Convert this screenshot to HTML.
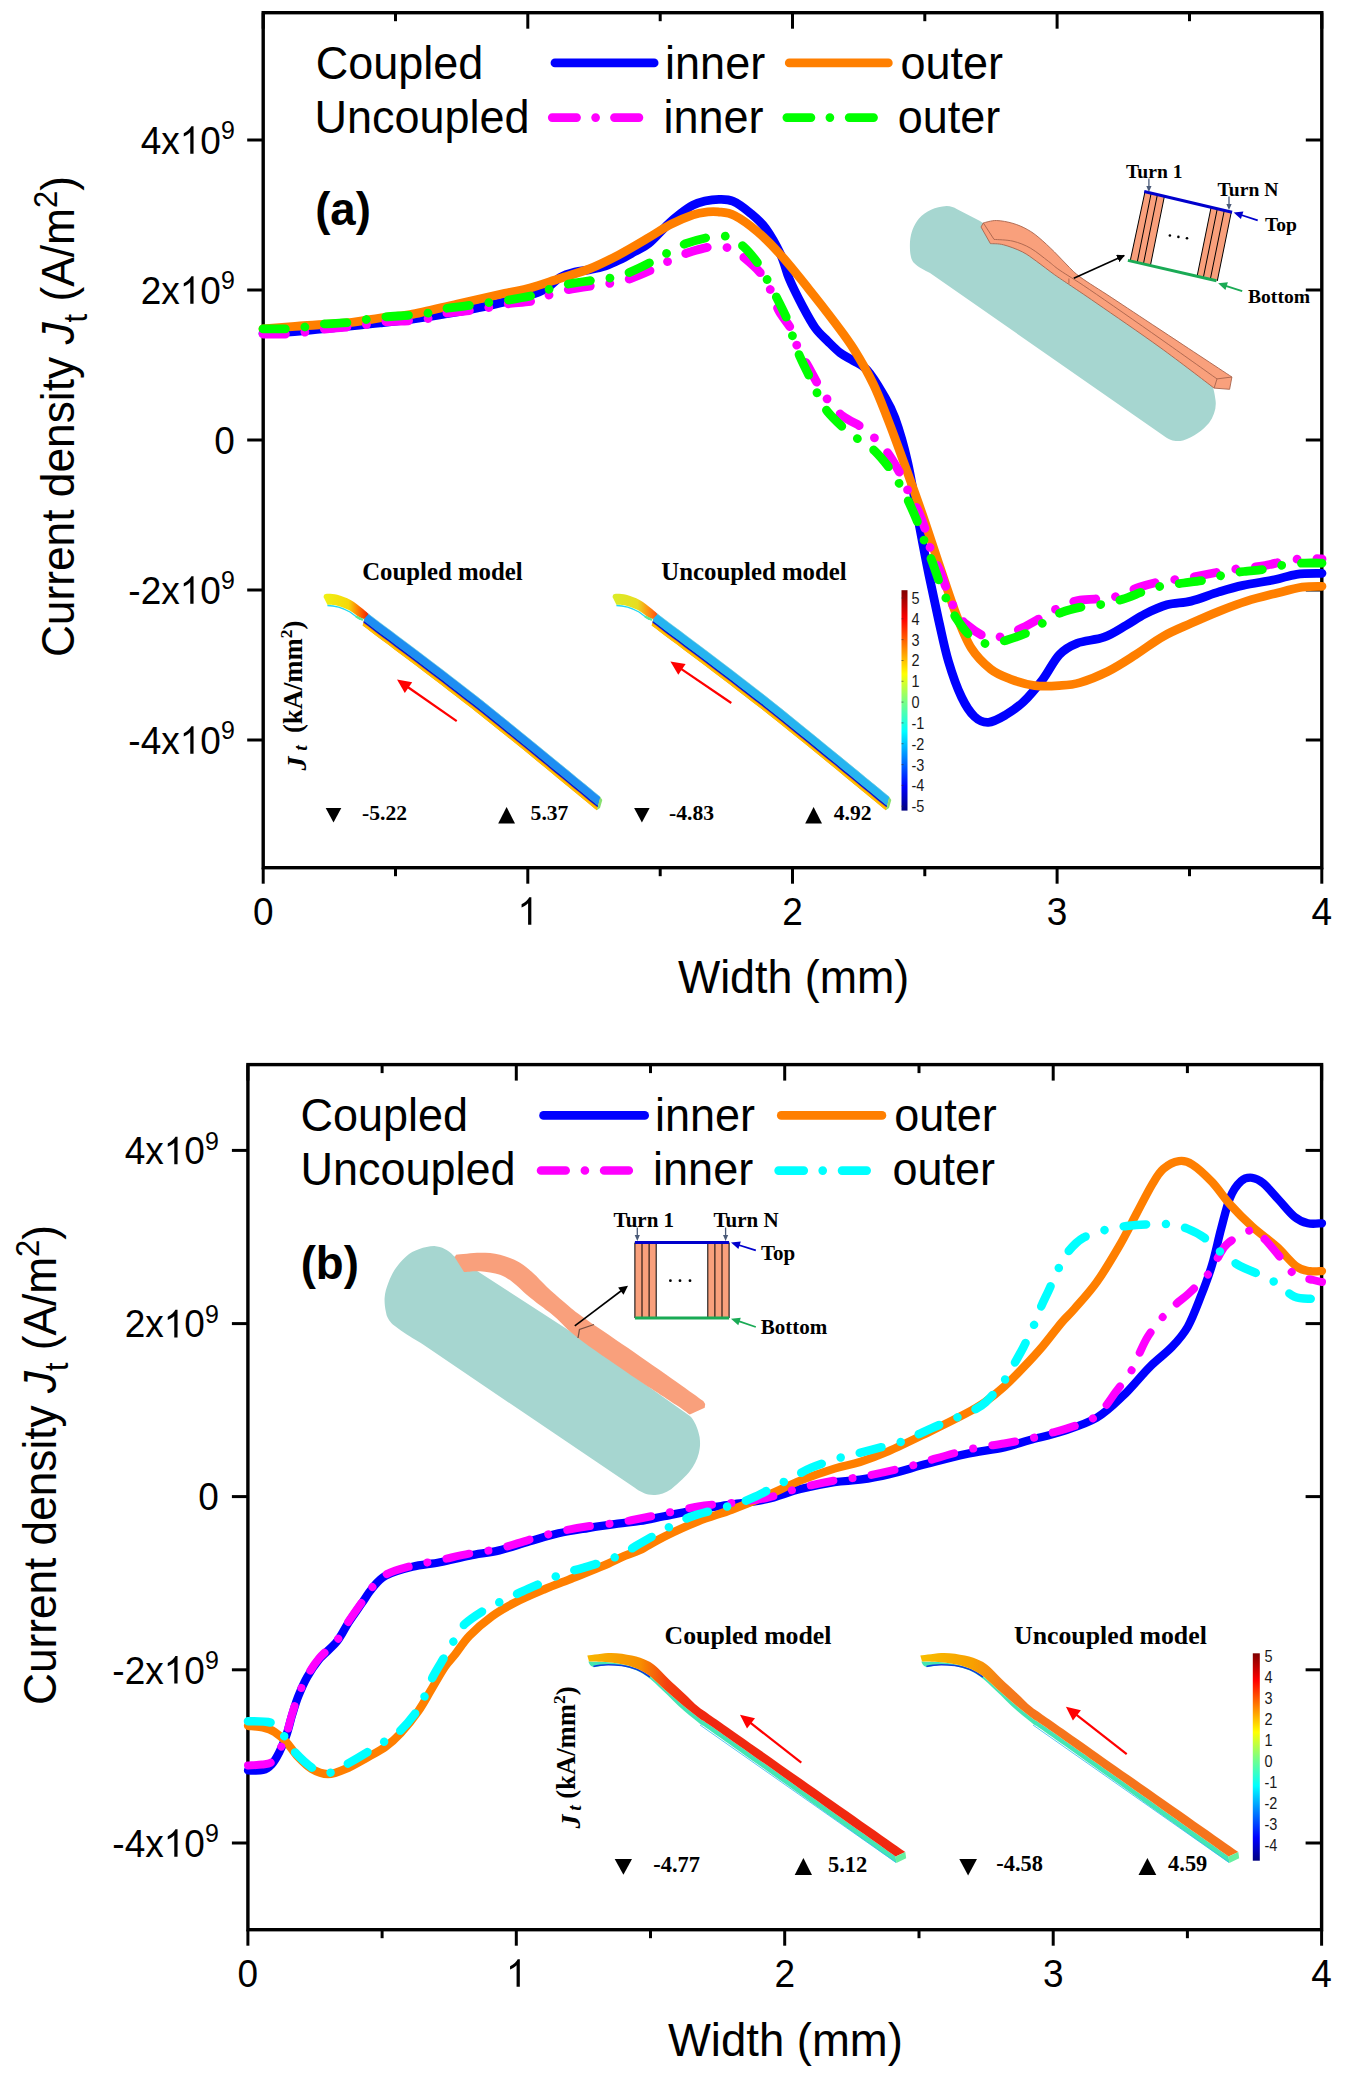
<!DOCTYPE html>
<html><head><meta charset="utf-8"><style>html,body{margin:0;padding:0;background:#fff;}svg{display:block;}</style></head>
<body>
<svg width="1350" height="2078" viewBox="0 0 1350 2078">
<defs>
<clipPath id="clipT"><rect x="263" y="12.5" width="1059" height="855"/></clipPath>
<clipPath id="clipB"><rect x="248" y="1064.5" width="1073.6" height="865.2"/></clipPath>
<linearGradient id="jet" x1="0" y1="1" x2="0" y2="0">
<stop offset="0" stop-color="#00007f"/><stop offset="0.11" stop-color="#0000ff"/><stop offset="0.36" stop-color="#00ffff"/>
<stop offset="0.5" stop-color="#7fff7f"/><stop offset="0.62" stop-color="#ffff00"/><stop offset="0.87" stop-color="#ff0000"/><stop offset="1" stop-color="#7f0000"/>
</linearGradient>
<marker id="ahB" viewBox="0 0 10 10" refX="9" refY="5" markerWidth="5" markerHeight="5" orient="auto"><path d="M0,0 L10,5 L0,10 z" fill="#000"/></marker>
</defs>
<rect width="1350" height="2078" fill="#fff"/>
<path d="M946.7,206 C951,206.3 954,207.3 956.7,209 L980,221 L1209,378.5 C1213,385 1214.5,392 1215.6,400.7 C1216.5,408 1214,416 1209,423 C1203,430 1194,437 1183,440.5 C1178,441.5 1174,441 1171.1,440 C1168,439 1165,437 1162.2,434.8 L930,273 C925,270.5 918,267.5 913.3,262.3 C910.2,258 909.6,250 910,241.7 C910.8,233 913.5,225 919,218.5 C926,211 935,206.6 946.7,206 Z" fill="#a6d6d0"/>
<path d="M981,227 L983.3,222.9 L983.3,222.9 C985.5,222.5 991.4,220.4 996.4,220.5 C1001.4,220.6 1007.9,221.9 1013.0,223.4 C1018.1,224.9 1022.9,227.0 1027.2,229.4 C1031.5,231.8 1034.5,233.9 1039.0,237.7 C1043.5,241.4 1049.6,247.2 1054.4,251.9 C1059.2,256.6 1063.6,261.7 1068.0,266.0 C1072.4,270.3 1073.7,272.3 1081.0,277.6 C1088.3,282.9 1098.7,289.1 1111.9,297.8 C1125.1,306.5 1140.0,316.4 1160.0,329.6 C1180.0,342.8 1219.9,369.1 1231.9,377.0 L1229.6,389.3 L1214.1,388.1 L1214.1,388.1 C1205.1,381.3 1179.5,361.5 1160.0,347.4 C1140.5,333.3 1112.2,314.0 1097.0,303.5 C1081.8,293.0 1075.8,289.1 1068.7,284.3 C1061.6,279.5 1059.7,278.4 1054.4,274.6 C1049.1,270.8 1042.0,265.2 1036.7,261.4 C1031.4,257.6 1027.9,254.7 1022.4,251.9 C1016.9,249.1 1008.8,246.2 1003.5,244.8 C998.2,243.4 992.6,243.8 990.4,243.6 Z" fill="#f9a07c" stroke="#a8634c" stroke-width="0.9" stroke-linejoin="round"/>
<path d="M994.0,239.4 C997.2,239.7 1006.9,239.7 1013.0,241.2 C1019.1,242.7 1024.8,244.9 1030.7,248.3 C1036.6,251.7 1043.6,257.7 1048.5,261.4 C1053.4,265.1 1053.2,265.7 1060.0,270.4 C1066.8,275.1 1072.9,278.2 1089.6,289.6 C1106.3,301.0 1138.8,323.6 1160.0,338.5 C1181.2,353.4 1207.5,372.2 1217.0,378.9" fill="none" stroke="#a8634c" stroke-width="0.9"/>
<path d="M983.3,222.9 L994,239.4 M1217,378.9 L1231.9,377 M1217,378.9 L1214.1,388.1 M1068.9,278.5 L1068.9,283.7" fill="none" stroke="#a8634c" stroke-width="0.9"/>
<line x1="1073.8" y1="278.2" x2="1124.2" y2="255.5" stroke="#000" stroke-width="1.6" marker-end="url(#ahB)"/>
<polygon points="1145.0,191.7 1164.4,196.3 1150.4,265.6 1130.2,260.9" fill="#f9a07c"/>
<line x1="1145.0" y1="191.7" x2="1130.2" y2="260.9" stroke="#000" stroke-width="1"/>
<line x1="1151.2" y1="193.1" x2="1137.2" y2="262.5" stroke="#000" stroke-width="1"/>
<line x1="1157.4" y1="194.6" x2="1143.4" y2="264.0" stroke="#000" stroke-width="1"/>
<line x1="1164.4" y1="196.3" x2="1150.4" y2="265.6" stroke="#000" stroke-width="1"/>
<polygon points="1211.1,207.3 1231.3,212.0 1217.3,280.9 1197.1,276.3" fill="#f9a07c"/>
<line x1="1211.1" y1="207.3" x2="1197.1" y2="276.3" stroke="#000" stroke-width="1"/>
<line x1="1217.3" y1="208.7" x2="1203.3" y2="277.7" stroke="#000" stroke-width="1"/>
<line x1="1224.3" y1="210.4" x2="1210.3" y2="279.3" stroke="#000" stroke-width="1"/>
<line x1="1231.3" y1="212.0" x2="1217.3" y2="280.9" stroke="#000" stroke-width="1"/>
<line x1="1144.2" y1="191.5" x2="1232.1" y2="212.2" stroke="#0000cc" stroke-width="3"/>
<line x1="1127.9" y1="260.4" x2="1216.5" y2="280.7" stroke="#1aaa55" stroke-width="3"/>
<circle cx="1169.9" cy="235.5" r="1.3" fill="#000"/>
<circle cx="1178.4" cy="236.9" r="1.3" fill="#000"/>
<circle cx="1187.0" cy="238.3" r="1.3" fill="#000"/>
<text transform="translate(1154.3,178.3) scale(1,1.000)" text-anchor="middle" style="font-family:'Liberation Serif';font-size:19.6px;font-weight:bold;" fill="#000" >Turn 1</text>
<text transform="translate(1248.0,196.2) scale(1,1.000)" text-anchor="middle" style="font-family:'Liberation Serif';font-size:19.6px;font-weight:bold;" fill="#000" >Turn N</text>
<text transform="translate(1281.0,231.2) scale(1,1.000)" text-anchor="middle" style="font-family:'Liberation Serif';font-size:19.6px;font-weight:bold;" fill="#000" >Top</text>
<text transform="translate(1279.0,302.7) scale(1,1.000)" text-anchor="middle" style="font-family:'Liberation Serif';font-size:19.6px;font-weight:bold;" fill="#000" >Bottom</text>
<line x1="1148.9" y1="178.5" x2="1148.9" y2="187.0" stroke="#4a5a78" stroke-width="1.3"/>
<polygon points="1148.9,192.0 1146.3,186.0 1151.5,186.0" fill="#4a5a78"/>
<line x1="1229.0" y1="196.5" x2="1229.0" y2="205.0" stroke="#4a5a78" stroke-width="1.3"/>
<polygon points="1229.0,210.0 1226.4,204.0 1231.6,204.0" fill="#4a5a78"/>
<line x1="1257.7" y1="220.3" x2="1241.2" y2="215.0" stroke="#0000cc" stroke-width="1.8"/>
<polygon points="1233.6,212.5 1243.4,211.5 1240.9,219.1" fill="#0000cc"/>
<line x1="1242.2" y1="291.1" x2="1225.7" y2="285.8" stroke="#1aaa55" stroke-width="1.8"/>
<polygon points="1218.1,283.3 1227.9,282.3 1225.4,289.9" fill="#1aaa55"/>
<defs><linearGradient id="hkC" gradientUnits="userSpaceOnUse" x1="325" y1="0" x2="368" y2="0"><stop offset="0" stop-color="#f0f014"/><stop offset="0.55" stop-color="#f6d808"/><stop offset="0.8" stop-color="#ff7000"/><stop offset="1" stop-color="#f02000"/></linearGradient><linearGradient id="hkU" gradientUnits="userSpaceOnUse" x1="325" y1="0" x2="368" y2="0"><stop offset="0" stop-color="#dcec28"/><stop offset="0.55" stop-color="#e8dc20"/><stop offset="0.8" stop-color="#ff9010"/><stop offset="1" stop-color="#ff5010"/></linearGradient></defs>
<g transform="translate(0.0,0)">
<path d="M366.0,612.2 C384.2,626.0 435.9,664.2 475.0,695.0 C514.0,725.8 579.4,780.0 600.3,797.0 L597.0,810.2 C576.1,793.2 510.8,739.0 471.7,708.2 C432.6,677.4 380.9,639.2 362.7,625.4 Z" fill="#ff8a00" />
<path d="M363.2,623.2 C381.4,637.0 433.2,675.2 472.2,706.0 C511.3,736.8 576.7,791.0 597.5,808.0 L597.0,810.2 C576.1,793.2 510.8,739.0 471.7,708.2 C432.6,677.4 380.9,639.2 362.7,625.4 Z" fill="#ffc000" />
<path d="M363.9,620.8 C382.0,634.6 433.8,672.8 472.9,703.6 C511.9,734.4 577.3,788.6 598.1,805.6 L597.7,807.3 C576.8,790.3 511.5,736.1 472.4,705.3 C433.4,674.5 381.6,636.3 363.4,622.5 Z" fill="#0018d8" />
<path d="M366.0,612.2 C384.2,626.0 435.9,664.2 475.0,695.0 C514.0,725.8 579.4,780.0 600.3,797.0 L598.1,805.8 C577.2,788.8 511.9,734.6 472.8,703.8 C433.8,673.0 382.0,634.8 363.8,621.0 Z" fill="#1e8ef2" />
<path d="M366.0,612.2 C384.2,626.0 435.9,664.2 475.0,695.0 C514.0,725.8 579.4,780.0 600.3,797.0" fill="none" stroke="#60d8ff" stroke-width="1" opacity="0.7"/>
<path d="M323.5,597.0 C323.9,596.5 323.4,594.3 325.7,593.9 C328.0,593.5 333.0,593.8 337.2,594.8 C341.4,595.8 346.3,597.7 350.6,600.1 C354.9,602.5 360.0,606.7 363.0,609.0 C366.0,611.3 367.6,613.2 368.5,614.0 L364.0,619.0 C363.2,618.7 361.9,618.7 359.4,617.2 C356.9,615.7 352.5,611.9 348.8,610.0 C345.1,608.1 340.8,606.6 337.2,605.7 C333.6,604.8 329.0,604.9 327.4,604.8 Z" fill="url(#hkC)" />
<path d="M327.4,605.5 C333,605.5 342,607.5 350,612 L360,619.5" fill="none" stroke="#22d8f0" stroke-width="1.3"/>
<path d="M356,616.5 L363,620" stroke="#60e890" stroke-width="2.5"/>
<polygon points="597,810 598.2,805.6 600.3,797 602.3,800 600,808" fill="#88e070"/>
</g>
<g transform="translate(289.0,0)">
<path d="M366.0,612.2 C384.2,626.0 435.9,664.2 475.0,695.0 C514.0,725.8 579.4,780.0 600.3,797.0 L597.0,810.2 C576.1,793.2 510.8,739.0 471.7,708.2 C432.6,677.4 380.9,639.2 362.7,625.4 Z" fill="#ff8a00" />
<path d="M363.2,623.2 C381.4,637.0 433.2,675.2 472.2,706.0 C511.3,736.8 576.7,791.0 597.5,808.0 L597.0,810.2 C576.1,793.2 510.8,739.0 471.7,708.2 C432.6,677.4 380.9,639.2 362.7,625.4 Z" fill="#ffc000" />
<path d="M363.9,620.8 C382.0,634.6 433.8,672.8 472.9,703.6 C511.9,734.4 577.3,788.6 598.1,805.6 L597.7,807.3 C576.8,790.3 511.5,736.1 472.4,705.3 C433.4,674.5 381.6,636.3 363.4,622.5 Z" fill="#0018d8" />
<path d="M366.0,612.2 C384.2,626.0 435.9,664.2 475.0,695.0 C514.0,725.8 579.4,780.0 600.3,797.0 L598.1,805.8 C577.2,788.8 511.9,734.6 472.8,703.8 C433.8,673.0 382.0,634.8 363.8,621.0 Z" fill="#26b4f0" />
<path d="M366.0,612.2 C384.2,626.0 435.9,664.2 475.0,695.0 C514.0,725.8 579.4,780.0 600.3,797.0" fill="none" stroke="#60d8ff" stroke-width="1" opacity="0.7"/>
<path d="M323.5,597.0 C323.9,596.5 323.4,594.3 325.7,593.9 C328.0,593.5 333.0,593.8 337.2,594.8 C341.4,595.8 346.3,597.7 350.6,600.1 C354.9,602.5 360.0,606.7 363.0,609.0 C366.0,611.3 367.6,613.2 368.5,614.0 L364.0,619.0 C363.2,618.7 361.9,618.7 359.4,617.2 C356.9,615.7 352.5,611.9 348.8,610.0 C345.1,608.1 340.8,606.6 337.2,605.7 C333.6,604.8 329.0,604.9 327.4,604.8 Z" fill="url(#hkU)" />
<path d="M327.4,605.5 C333,605.5 342,607.5 350,612 L360,619.5" fill="none" stroke="#22d8f0" stroke-width="1.3"/>
<path d="M356,616.5 L363,620" stroke="#60e890" stroke-width="2.5"/>
<polygon points="597,810 598.2,805.6 600.3,797 602.3,800 600,808" fill="#88e070"/>
</g>
<line x1="456.7" y1="721.1" x2="407.7" y2="687.0" stroke="#ff0000" stroke-width="2.2"/>
<polygon points="397.0,679.6 412.2,682.3 404.8,692.9" fill="#ff0000"/>
<line x1="731.3" y1="703.0" x2="681.1" y2="668.8" stroke="#ff0000" stroke-width="2.2"/>
<polygon points="670.4,661.5 685.6,664.0 678.3,674.8" fill="#ff0000"/>
<text transform="translate(442.4,579.8) scale(1,1.000)" text-anchor="middle" style="font-family:'Liberation Serif';font-size:24.8px;font-weight:bold;" fill="#000" >Coupled model</text>
<text transform="translate(754.0,579.8) scale(1,1.000)" text-anchor="middle" style="font-family:'Liberation Serif';font-size:24.8px;font-weight:bold;" fill="#000" >Uncoupled model</text>
<rect x="901.5" y="590.2" width="6" height="220.4" fill="url(#jet)"/>
<text transform="translate(911.5,603.9) scale(1,1.180)" text-anchor="start" style="font-family:'Liberation Sans';font-size:14.5px;font-weight:normal;" fill="#1a1a1a" >5</text>
<line x1="901.5" y1="598.0" x2="903.5" y2="598.0" stroke="#333" stroke-width="0.6"/>
<text transform="translate(911.5,624.7) scale(1,1.180)" text-anchor="start" style="font-family:'Liberation Sans';font-size:14.5px;font-weight:normal;" fill="#1a1a1a" >4</text>
<line x1="901.5" y1="618.8" x2="903.5" y2="618.8" stroke="#333" stroke-width="0.6"/>
<text transform="translate(911.5,645.5) scale(1,1.180)" text-anchor="start" style="font-family:'Liberation Sans';font-size:14.5px;font-weight:normal;" fill="#1a1a1a" >3</text>
<line x1="901.5" y1="639.6" x2="903.5" y2="639.6" stroke="#333" stroke-width="0.6"/>
<text transform="translate(911.5,666.4) scale(1,1.180)" text-anchor="start" style="font-family:'Liberation Sans';font-size:14.5px;font-weight:normal;" fill="#1a1a1a" >2</text>
<line x1="901.5" y1="660.5" x2="903.5" y2="660.5" stroke="#333" stroke-width="0.6"/>
<text transform="translate(911.5,687.2) scale(1,1.180)" text-anchor="start" style="font-family:'Liberation Sans';font-size:14.5px;font-weight:normal;" fill="#1a1a1a" >1</text>
<line x1="901.5" y1="681.3" x2="903.5" y2="681.3" stroke="#333" stroke-width="0.6"/>
<text transform="translate(911.5,708.0) scale(1,1.180)" text-anchor="start" style="font-family:'Liberation Sans';font-size:14.5px;font-weight:normal;" fill="#1a1a1a" >0</text>
<line x1="901.5" y1="702.1" x2="903.5" y2="702.1" stroke="#333" stroke-width="0.6"/>
<text transform="translate(911.5,728.8) scale(1,1.180)" text-anchor="start" style="font-family:'Liberation Sans';font-size:14.5px;font-weight:normal;" fill="#1a1a1a" >-1</text>
<line x1="901.5" y1="722.9" x2="903.5" y2="722.9" stroke="#333" stroke-width="0.6"/>
<text transform="translate(911.5,749.6) scale(1,1.180)" text-anchor="start" style="font-family:'Liberation Sans';font-size:14.5px;font-weight:normal;" fill="#1a1a1a" >-2</text>
<line x1="901.5" y1="743.7" x2="903.5" y2="743.7" stroke="#333" stroke-width="0.6"/>
<text transform="translate(911.5,770.5) scale(1,1.180)" text-anchor="start" style="font-family:'Liberation Sans';font-size:14.5px;font-weight:normal;" fill="#1a1a1a" >-3</text>
<line x1="901.5" y1="764.6" x2="903.5" y2="764.6" stroke="#333" stroke-width="0.6"/>
<text transform="translate(911.5,791.3) scale(1,1.180)" text-anchor="start" style="font-family:'Liberation Sans';font-size:14.5px;font-weight:normal;" fill="#1a1a1a" >-4</text>
<line x1="901.5" y1="785.4" x2="903.5" y2="785.4" stroke="#333" stroke-width="0.6"/>
<text transform="translate(911.5,812.1) scale(1,1.180)" text-anchor="start" style="font-family:'Liberation Sans';font-size:14.5px;font-weight:normal;" fill="#1a1a1a" >-5</text>
<line x1="901.5" y1="806.2" x2="903.5" y2="806.2" stroke="#333" stroke-width="0.6"/>
<polygon points="325.7,808.0 341.3,808.0 333.5,822.5" fill="#000"/>
<text transform="translate(362.0,819.6) scale(1,1.000)" text-anchor="start" style="font-family:'Liberation Serif';font-size:21.6px;font-weight:bold;" fill="#000" >-5.22</text>
<polygon points="498.2,823.5 515.0,823.5 506.6,807.0" fill="#000"/>
<text transform="translate(530.6,819.6) scale(1,1.000)" text-anchor="start" style="font-family:'Liberation Serif';font-size:21.6px;font-weight:bold;" fill="#000" >5.37</text>
<polygon points="634.1,808.0 649.6,808.0 641.9,822.5" fill="#000"/>
<text transform="translate(669.1,819.6) scale(1,1.000)" text-anchor="start" style="font-family:'Liberation Serif';font-size:21.6px;font-weight:bold;" fill="#000" >-4.83</text>
<polygon points="805.2,823.5 822.0,823.5 813.6,807.0" fill="#000"/>
<text transform="translate(833.7,819.6) scale(1,1.000)" text-anchor="start" style="font-family:'Liberation Serif';font-size:21.6px;font-weight:bold;" fill="#000" >4.92</text>
<g transform="translate(301.6,770.4) rotate(-90)" style="font-family:'Liberation Serif';font-weight:bold"><text x="0.0" y="4.3" font-style="italic" font-size="28">J</text><text x="19.6" y="5.3" font-style="italic" font-size="19.5">t</text><text x="37.3" y="0" font-size="26.7">(kA/mm<tspan font-size="17.6" dy="-10">2</tspan><tspan dy="10">)</tspan></text></g>
<path d="M434.3,1246.1 C442,1246.8 448,1250 453.5,1255.7 L573.3,1333.3 L689.9,1415.9 C694,1419.5 698,1428 699.6,1437 C700.5,1444 700,1448 698.8,1453.3 C697,1460 694,1466 690,1471 C686,1476 680,1482 671.1,1489.2 C665,1493 660,1495 654.8,1494.9 C650,1495 647,1494.5 644.2,1493.3 C640,1491.5 637,1489.5 634.4,1487.6 L423.1,1344.6 C416,1340 410,1337 400.9,1330.6 C396,1327 393,1325 391.3,1323.1 C388,1319 386.5,1316 386.1,1312.8 C384.8,1307 384.4,1302 384.6,1298 C385,1292 386.5,1288 388.3,1283.1 C390.5,1277 393,1272 395.7,1268.3 C399,1263.5 402,1260 406.1,1256.5 C410,1253 414,1251 419.4,1249.1 C424,1247.3 429,1246.3 434.3,1246.1 Z" fill="#a6d6d0"/>
<path d="M454.7,1257.3 L456,1254.7 L456.0,1254.7 C460.0,1254.4 472.7,1252.7 480.0,1252.7 C487.3,1252.7 493.3,1253.0 500.0,1254.7 C506.7,1256.4 514.5,1259.6 520.0,1262.7 C525.5,1265.8 528.8,1269.3 533.3,1273.3 C537.8,1277.3 541.6,1281.9 546.7,1286.7 C551.8,1291.5 558.1,1297.0 564.0,1302.0 C569.9,1307.0 571.3,1308.8 582.0,1316.5 C592.7,1324.2 612.4,1337.2 628.1,1348.1 C643.8,1359.0 663.8,1373.0 676.3,1381.8 C688.8,1390.6 698.8,1397.9 703.3,1401.1 L705.2,1404 L704.7,1407.8 L689.8,1414.6 C687.5,1413.0 686.6,1411.9 676.3,1405.0 C666.0,1398.1 644.5,1384.4 628.1,1373.2 C611.7,1362.0 590.2,1347.4 578.0,1338.0 C565.8,1328.6 561.3,1322.5 555.0,1317.0 C548.7,1311.5 544.7,1309.0 540.0,1305.3 C535.3,1301.6 531.2,1298.5 526.7,1294.7 C522.2,1290.9 517.8,1286.0 513.3,1282.7 C508.8,1279.4 505.6,1276.6 500.0,1274.7 C494.4,1272.8 486.0,1271.8 480.0,1271.3 C474.0,1270.8 466.7,1271.9 464.0,1272.0 Z" fill="#f9a07c"/>
<path d="M578,1338 L579.5,1329.5 L594,1324.5" fill="none" stroke="#7a5040" stroke-width="1.3"/>
<line x1="574.8" y1="1325.9" x2="621.6" y2="1290.5" stroke="#000" stroke-width="1.6"/>
<polygon points="628.0,1285.7 623.5,1294.7 618.1,1287.5" fill="#000"/>
<rect x="634.9" y="1242.6" width="21.3" height="75.4" fill="#f9a07c"/>
<rect x="707.8" y="1242.6" width="21.3" height="75.4" fill="#f9a07c"/>
<line x1="634.9" y1="1242.6" x2="634.9" y2="1318" stroke="#000" stroke-width="1"/>
<line x1="642.0" y1="1242.6" x2="642.0" y2="1318" stroke="#000" stroke-width="1"/>
<line x1="649.1" y1="1242.6" x2="649.1" y2="1318" stroke="#000" stroke-width="1"/>
<line x1="656.2" y1="1242.6" x2="656.2" y2="1318" stroke="#000" stroke-width="1"/>
<line x1="707.8" y1="1242.6" x2="707.8" y2="1318" stroke="#000" stroke-width="1"/>
<line x1="714.9" y1="1242.6" x2="714.9" y2="1318" stroke="#000" stroke-width="1"/>
<line x1="722.0" y1="1242.6" x2="722.0" y2="1318" stroke="#000" stroke-width="1"/>
<line x1="729.1" y1="1242.6" x2="729.1" y2="1318" stroke="#000" stroke-width="1"/>
<line x1="634.9" y1="1242.6" x2="729.1" y2="1242.6" stroke="#0000cc" stroke-width="3"/>
<line x1="634.9" y1="1318" x2="729.1" y2="1318" stroke="#1aaa55" stroke-width="3"/>
<circle cx="670.4" cy="1280.7" r="1.4" fill="#000"/>
<circle cx="680.0" cy="1280.7" r="1.4" fill="#000"/>
<circle cx="690.0" cy="1280.7" r="1.4" fill="#000"/>
<text transform="translate(643.8,1227.3) scale(1,1.000)" text-anchor="middle" style="font-family:'Liberation Serif';font-size:21px;font-weight:bold;" fill="#000" >Turn 1</text>
<text transform="translate(746.0,1227.3) scale(1,1.000)" text-anchor="middle" style="font-family:'Liberation Serif';font-size:21px;font-weight:bold;" fill="#000" >Turn N</text>
<text transform="translate(778.0,1260.0) scale(1,1.000)" text-anchor="middle" style="font-family:'Liberation Serif';font-size:21px;font-weight:bold;" fill="#000" >Top</text>
<text transform="translate(794.0,1333.5) scale(1,1.000)" text-anchor="middle" style="font-family:'Liberation Serif';font-size:21px;font-weight:bold;" fill="#000" >Bottom</text>
<line x1="637.3" y1="1227.5" x2="637.3" y2="1236.0" stroke="#4a5a78" stroke-width="1.3"/>
<polygon points="637.3,1241.0 634.7,1235.0 639.9,1235.0" fill="#4a5a78"/>
<line x1="725.6" y1="1227.5" x2="725.6" y2="1236.0" stroke="#4a5a78" stroke-width="1.3"/>
<polygon points="725.6,1241.0 723.0,1235.0 728.2,1235.0" fill="#4a5a78"/>
<line x1="755.8" y1="1250.4" x2="738.6" y2="1245.0" stroke="#0000cc" stroke-width="1.8"/>
<polygon points="731.0,1242.6 740.8,1241.5 738.4,1249.1" fill="#0000cc"/>
<line x1="755.8" y1="1327.0" x2="738.6" y2="1321.2" stroke="#1aaa55" stroke-width="1.8"/>
<polygon points="731.0,1318.7 740.8,1317.8 738.3,1325.3" fill="#1aaa55"/>
<defs><linearGradient id="gC" gradientUnits="userSpaceOnUse" x1="590" y1="0" x2="700" y2="0"><stop offset="0" stop-color="#f8b400"/><stop offset="0.45" stop-color="#f89000"/><stop offset="0.7" stop-color="#f44010"/><stop offset="1" stop-color="#f02810"/></linearGradient><linearGradient id="gU" gradientUnits="userSpaceOnUse" x1="590" y1="0" x2="700" y2="0"><stop offset="0" stop-color="#f8bc00"/><stop offset="0.45" stop-color="#f8a000"/><stop offset="0.75" stop-color="#f57a1c"/><stop offset="1" stop-color="#f5741c"/></linearGradient></defs>
<g transform="translate(0.0,0)">
<path d="M589.0,1661.5 C592.7,1661.7 604.0,1661.7 611.1,1662.6 C618.2,1663.5 625.9,1664.8 631.9,1666.7 C637.9,1668.7 642.2,1670.8 647.4,1674.3 C652.6,1677.8 657.0,1682.7 663.0,1688.0 C669.0,1693.3 676.8,1700.3 683.7,1706.0 C690.6,1711.7 698.4,1717.6 704.4,1722.0 C710.4,1726.4 688.1,1709.8 720.0,1732.2 C751.9,1754.6 866.3,1835.7 895.6,1856.4 L896.4,1863.1 C867.0,1842.2 752.0,1760.2 720.0,1737.5 C688.0,1714.8 710.4,1731.6 704.4,1727.1 C698.4,1722.6 690.6,1716.5 683.7,1710.5 C676.8,1704.5 669.0,1696.4 663.0,1690.8 C657.0,1685.2 652.6,1680.5 647.4,1676.8 C642.2,1673.1 637.9,1670.8 631.9,1668.8 C625.9,1666.8 617.5,1665.1 611.1,1664.8 C604.7,1664.5 597.3,1667.5 593.5,1667.0 C589.7,1666.5 589.2,1662.7 588.3,1661.8 Z" fill="#44e6b4" />
<path d="M593.5,1666.5 C600,1664.5 611,1664.3 622,1665.5 C634,1667 642,1671 650,1677" fill="none" stroke="#1038e0" stroke-width="1.6"/>
<path d="M700,1725 L896,1862.5" stroke="#30b8f0" stroke-width="1" opacity="0.8"/>
<path d="M587.3,1655.6 C591.3,1655.2 603.7,1653.0 611.1,1653.0 C618.5,1653.0 625.9,1654.3 631.9,1655.6 C637.9,1656.9 643.3,1658.8 647.4,1660.7 C651.5,1662.6 653.2,1664.0 656.7,1667.0 C660.2,1670.0 663.6,1674.1 668.1,1678.4 C672.6,1682.7 678.5,1688.1 683.7,1692.9 C688.9,1697.7 693.2,1702.6 699.3,1707.4 C705.3,1712.2 685.7,1697.8 720.0,1721.9 C754.3,1746.0 874.4,1830.3 905.3,1852.0 L895.6,1856.4 C866.3,1835.7 751.9,1754.6 720.0,1732.2 C688.1,1709.8 710.4,1726.4 704.4,1722.0 C698.4,1717.6 690.6,1711.7 683.7,1706.0 C676.8,1700.3 669.0,1693.3 663.0,1688.0 C657.0,1682.7 652.6,1677.8 647.4,1674.3 C642.2,1670.8 637.9,1668.7 631.9,1666.7 C625.9,1664.8 618.2,1663.5 611.1,1662.6 C604.0,1661.7 592.7,1661.7 589.0,1661.5 Z" fill="url(#gC)" />
<polygon points="895.6,1856.4 905.3,1852 906.2,1858.2 896.4,1863.1" fill="#66f0a0"/>
</g>
<g transform="translate(333.0,0)">
<path d="M589.0,1661.5 C592.7,1661.7 604.0,1661.7 611.1,1662.6 C618.2,1663.5 625.9,1664.8 631.9,1666.7 C637.9,1668.7 642.2,1670.8 647.4,1674.3 C652.6,1677.8 657.0,1682.7 663.0,1688.0 C669.0,1693.3 676.8,1700.3 683.7,1706.0 C690.6,1711.7 698.4,1717.6 704.4,1722.0 C710.4,1726.4 688.1,1709.8 720.0,1732.2 C751.9,1754.6 866.3,1835.7 895.6,1856.4 L896.4,1863.1 C867.0,1842.2 752.0,1760.2 720.0,1737.5 C688.0,1714.8 710.4,1731.6 704.4,1727.1 C698.4,1722.6 690.6,1716.5 683.7,1710.5 C676.8,1704.5 669.0,1696.4 663.0,1690.8 C657.0,1685.2 652.6,1680.5 647.4,1676.8 C642.2,1673.1 637.9,1670.8 631.9,1668.8 C625.9,1666.8 617.5,1665.1 611.1,1664.8 C604.7,1664.5 597.3,1667.5 593.5,1667.0 C589.7,1666.5 589.2,1662.7 588.3,1661.8 Z" fill="#44e6b4" />
<path d="M593.5,1666.5 C600,1664.5 611,1664.3 622,1665.5 C634,1667 642,1671 650,1677" fill="none" stroke="#1038e0" stroke-width="1.6"/>
<path d="M700,1725 L896,1862.5" stroke="#30b8f0" stroke-width="1" opacity="0.8"/>
<path d="M587.3,1655.6 C591.3,1655.2 603.7,1653.0 611.1,1653.0 C618.5,1653.0 625.9,1654.3 631.9,1655.6 C637.9,1656.9 643.3,1658.8 647.4,1660.7 C651.5,1662.6 653.2,1664.0 656.7,1667.0 C660.2,1670.0 663.6,1674.1 668.1,1678.4 C672.6,1682.7 678.5,1688.1 683.7,1692.9 C688.9,1697.7 693.2,1702.6 699.3,1707.4 C705.3,1712.2 685.7,1697.8 720.0,1721.9 C754.3,1746.0 874.4,1830.3 905.3,1852.0 L895.6,1856.4 C866.3,1835.7 751.9,1754.6 720.0,1732.2 C688.1,1709.8 710.4,1726.4 704.4,1722.0 C698.4,1717.6 690.6,1711.7 683.7,1706.0 C676.8,1700.3 669.0,1693.3 663.0,1688.0 C657.0,1682.7 652.6,1677.8 647.4,1674.3 C642.2,1670.8 637.9,1668.7 631.9,1666.7 C625.9,1664.8 618.2,1663.5 611.1,1662.6 C604.0,1661.7 592.7,1661.7 589.0,1661.5 Z" fill="url(#gU)" />
<polygon points="895.6,1856.4 905.3,1852 906.2,1858.2 896.4,1863.1" fill="#66f0a0"/>
</g>
<line x1="801.3" y1="1762.7" x2="750.2" y2="1722.7" stroke="#ff0000" stroke-width="2.2"/>
<polygon points="740.0,1714.7 755.0,1718.2 747.0,1728.4" fill="#ff0000"/>
<line x1="1126.7" y1="1754.1" x2="1076.2" y2="1714.7" stroke="#ff0000" stroke-width="2.2"/>
<polygon points="1065.9,1706.7 1080.9,1710.2 1072.9,1720.4" fill="#ff0000"/>
<text transform="translate(748.0,1644.0) scale(1,1.000)" text-anchor="middle" style="font-family:'Liberation Serif';font-size:25.8px;font-weight:bold;" fill="#000" >Coupled model</text>
<text transform="translate(1110.4,1644.4) scale(1,1.000)" text-anchor="middle" style="font-family:'Liberation Serif';font-size:25.8px;font-weight:bold;" fill="#000" >Uncoupled model</text>
<rect x="1252.8" y="1653.3" width="7" height="207.4" fill="url(#jet)"/>
<text transform="translate(1264.4,1662.2) scale(1,1.180)" text-anchor="start" style="font-family:'Liberation Sans';font-size:14.5px;font-weight:normal;" fill="#1a1a1a" >5</text>
<text transform="translate(1264.4,1683.2) scale(1,1.180)" text-anchor="start" style="font-family:'Liberation Sans';font-size:14.5px;font-weight:normal;" fill="#1a1a1a" >4</text>
<text transform="translate(1264.4,1704.2) scale(1,1.180)" text-anchor="start" style="font-family:'Liberation Sans';font-size:14.5px;font-weight:normal;" fill="#1a1a1a" >3</text>
<text transform="translate(1264.4,1725.2) scale(1,1.180)" text-anchor="start" style="font-family:'Liberation Sans';font-size:14.5px;font-weight:normal;" fill="#1a1a1a" >2</text>
<text transform="translate(1264.4,1746.2) scale(1,1.180)" text-anchor="start" style="font-family:'Liberation Sans';font-size:14.5px;font-weight:normal;" fill="#1a1a1a" >1</text>
<text transform="translate(1264.4,1767.2) scale(1,1.180)" text-anchor="start" style="font-family:'Liberation Sans';font-size:14.5px;font-weight:normal;" fill="#1a1a1a" >0</text>
<text transform="translate(1264.4,1788.2) scale(1,1.180)" text-anchor="start" style="font-family:'Liberation Sans';font-size:14.5px;font-weight:normal;" fill="#1a1a1a" >-1</text>
<text transform="translate(1264.4,1809.2) scale(1,1.180)" text-anchor="start" style="font-family:'Liberation Sans';font-size:14.5px;font-weight:normal;" fill="#1a1a1a" >-2</text>
<text transform="translate(1264.4,1830.2) scale(1,1.180)" text-anchor="start" style="font-family:'Liberation Sans';font-size:14.5px;font-weight:normal;" fill="#1a1a1a" >-3</text>
<text transform="translate(1264.4,1851.2) scale(1,1.180)" text-anchor="start" style="font-family:'Liberation Sans';font-size:14.5px;font-weight:normal;" fill="#1a1a1a" >-4</text>
<polygon points="614.7,1859.0 632.0,1859.0 623.4,1874.7" fill="#000"/>
<text transform="translate(653.3,1872.0) scale(1,1.000)" text-anchor="start" style="font-family:'Liberation Serif';font-size:22.4px;font-weight:bold;" fill="#000" >-4.77</text>
<polygon points="794.7,1875.0 812.0,1875.0 803.4,1858.0" fill="#000"/>
<text transform="translate(828.0,1872.0) scale(1,1.000)" text-anchor="start" style="font-family:'Liberation Serif';font-size:22.4px;font-weight:bold;" fill="#000" >5.12</text>
<polygon points="959.3,1859.0 977.0,1859.0 968.1,1875.6" fill="#000"/>
<text transform="translate(996.3,1871.1) scale(1,1.000)" text-anchor="start" style="font-family:'Liberation Serif';font-size:22.4px;font-weight:bold;" fill="#000" >-4.58</text>
<polygon points="1138.5,1875.0 1156.3,1875.0 1147.4,1858.0" fill="#000"/>
<text transform="translate(1168.1,1871.1) scale(1,1.000)" text-anchor="start" style="font-family:'Liberation Serif';font-size:22.4px;font-weight:bold;" fill="#000" >4.59</text>
<g transform="translate(575.4,1828.5) rotate(-90)" style="font-family:'Liberation Serif';font-weight:bold"><text x="0.0" y="4.3" font-style="italic" font-size="28">J</text><text x="17.7" y="5.3" font-style="italic" font-size="19.5">t</text><text x="29.7" y="0" font-size="26.7">(kA/mm<tspan font-size="17.6" dy="-10">2</tspan><tspan dy="10">)</tspan></text></g>
<rect x="263.2" y="12.7" width="1058.6" height="855.0" fill="none" stroke="#000" stroke-width="3.4"/>
<line x1="263.2" y1="867.7" x2="263.2" y2="883.7" stroke="#000" stroke-width="3"/>
<line x1="263.2" y1="12.7" x2="263.2" y2="28.7" stroke="#000" stroke-width="3"/>
<line x1="527.8" y1="867.7" x2="527.8" y2="883.7" stroke="#000" stroke-width="3"/>
<line x1="527.8" y1="12.7" x2="527.8" y2="28.7" stroke="#000" stroke-width="3"/>
<line x1="792.5" y1="867.7" x2="792.5" y2="883.7" stroke="#000" stroke-width="3"/>
<line x1="792.5" y1="12.7" x2="792.5" y2="28.7" stroke="#000" stroke-width="3"/>
<line x1="1057.1" y1="867.7" x2="1057.1" y2="883.7" stroke="#000" stroke-width="3"/>
<line x1="1057.1" y1="12.7" x2="1057.1" y2="28.7" stroke="#000" stroke-width="3"/>
<line x1="1321.8" y1="867.7" x2="1321.8" y2="883.7" stroke="#000" stroke-width="3"/>
<line x1="1321.8" y1="12.7" x2="1321.8" y2="28.7" stroke="#000" stroke-width="3"/>
<line x1="395.5" y1="867.7" x2="395.5" y2="876.2" stroke="#000" stroke-width="3"/>
<line x1="395.5" y1="12.7" x2="395.5" y2="21.2" stroke="#000" stroke-width="3"/>
<line x1="660.2" y1="867.7" x2="660.2" y2="876.2" stroke="#000" stroke-width="3"/>
<line x1="660.2" y1="12.7" x2="660.2" y2="21.2" stroke="#000" stroke-width="3"/>
<line x1="924.8" y1="867.7" x2="924.8" y2="876.2" stroke="#000" stroke-width="3"/>
<line x1="924.8" y1="12.7" x2="924.8" y2="21.2" stroke="#000" stroke-width="3"/>
<line x1="1189.5" y1="867.7" x2="1189.5" y2="876.2" stroke="#000" stroke-width="3"/>
<line x1="1189.5" y1="12.7" x2="1189.5" y2="21.2" stroke="#000" stroke-width="3"/>
<line x1="247.2" y1="140.0" x2="263.2" y2="140.0" stroke="#000" stroke-width="3"/>
<line x1="1305.8" y1="140.0" x2="1321.8" y2="140.0" stroke="#000" stroke-width="3"/>
<line x1="247.2" y1="290.0" x2="263.2" y2="290.0" stroke="#000" stroke-width="3"/>
<line x1="1305.8" y1="290.0" x2="1321.8" y2="290.0" stroke="#000" stroke-width="3"/>
<line x1="247.2" y1="440.0" x2="263.2" y2="440.0" stroke="#000" stroke-width="3"/>
<line x1="1305.8" y1="440.0" x2="1321.8" y2="440.0" stroke="#000" stroke-width="3"/>
<line x1="247.2" y1="590.0" x2="263.2" y2="590.0" stroke="#000" stroke-width="3"/>
<line x1="1305.8" y1="590.0" x2="1321.8" y2="590.0" stroke="#000" stroke-width="3"/>
<line x1="247.2" y1="740.0" x2="263.2" y2="740.0" stroke="#000" stroke-width="3"/>
<line x1="1305.8" y1="740.0" x2="1321.8" y2="740.0" stroke="#000" stroke-width="3"/>
<rect x="247.9" y="1064.6" width="1073.7" height="865.1" fill="none" stroke="#000" stroke-width="3.4"/>
<line x1="247.9" y1="1929.7" x2="247.9" y2="1945.7" stroke="#000" stroke-width="3"/>
<line x1="247.9" y1="1064.6" x2="247.9" y2="1080.6" stroke="#000" stroke-width="3"/>
<line x1="516.3" y1="1929.7" x2="516.3" y2="1945.7" stroke="#000" stroke-width="3"/>
<line x1="516.3" y1="1064.6" x2="516.3" y2="1080.6" stroke="#000" stroke-width="3"/>
<line x1="784.7" y1="1929.7" x2="784.7" y2="1945.7" stroke="#000" stroke-width="3"/>
<line x1="784.7" y1="1064.6" x2="784.7" y2="1080.6" stroke="#000" stroke-width="3"/>
<line x1="1053.2" y1="1929.7" x2="1053.2" y2="1945.7" stroke="#000" stroke-width="3"/>
<line x1="1053.2" y1="1064.6" x2="1053.2" y2="1080.6" stroke="#000" stroke-width="3"/>
<line x1="1321.6" y1="1929.7" x2="1321.6" y2="1945.7" stroke="#000" stroke-width="3"/>
<line x1="1321.6" y1="1064.6" x2="1321.6" y2="1080.6" stroke="#000" stroke-width="3"/>
<line x1="382.1" y1="1929.7" x2="382.1" y2="1938.2" stroke="#000" stroke-width="3"/>
<line x1="382.1" y1="1064.6" x2="382.1" y2="1073.1" stroke="#000" stroke-width="3"/>
<line x1="650.5" y1="1929.7" x2="650.5" y2="1938.2" stroke="#000" stroke-width="3"/>
<line x1="650.5" y1="1064.6" x2="650.5" y2="1073.1" stroke="#000" stroke-width="3"/>
<line x1="919.0" y1="1929.7" x2="919.0" y2="1938.2" stroke="#000" stroke-width="3"/>
<line x1="919.0" y1="1064.6" x2="919.0" y2="1073.1" stroke="#000" stroke-width="3"/>
<line x1="1187.4" y1="1929.7" x2="1187.4" y2="1938.2" stroke="#000" stroke-width="3"/>
<line x1="1187.4" y1="1064.6" x2="1187.4" y2="1073.1" stroke="#000" stroke-width="3"/>
<line x1="231.9" y1="1150.4" x2="247.9" y2="1150.4" stroke="#000" stroke-width="3"/>
<line x1="1305.6" y1="1150.4" x2="1321.6" y2="1150.4" stroke="#000" stroke-width="3"/>
<line x1="231.9" y1="1323.6" x2="247.9" y2="1323.6" stroke="#000" stroke-width="3"/>
<line x1="1305.6" y1="1323.6" x2="1321.6" y2="1323.6" stroke="#000" stroke-width="3"/>
<line x1="231.9" y1="1496.6" x2="247.9" y2="1496.6" stroke="#000" stroke-width="3"/>
<line x1="1305.6" y1="1496.6" x2="1321.6" y2="1496.6" stroke="#000" stroke-width="3"/>
<line x1="231.9" y1="1669.8" x2="247.9" y2="1669.8" stroke="#000" stroke-width="3"/>
<line x1="1305.6" y1="1669.8" x2="1321.6" y2="1669.8" stroke="#000" stroke-width="3"/>
<line x1="231.9" y1="1843.0" x2="247.9" y2="1843.0" stroke="#000" stroke-width="3"/>
<line x1="1305.6" y1="1843.0" x2="1321.6" y2="1843.0" stroke="#000" stroke-width="3"/>
<path d="M263.0,333.5 C269.2,333.1 287.2,332.1 300.0,331.0 C312.8,329.9 326.7,328.3 340.0,327.0 C353.3,325.7 368.3,324.3 380.0,323.0 C391.7,321.7 399.2,320.9 410.0,319.4 C420.8,317.9 431.2,316.5 445.0,314.0 C458.8,311.5 479.2,307.7 493.0,304.6 C506.8,301.6 519.2,298.4 528.0,295.7 C536.8,293.0 540.7,291.6 546.0,288.6 C551.3,285.6 555.2,280.3 560.0,277.5 C564.8,274.7 570.0,273.3 575.0,272.0 C580.0,270.7 585.0,270.6 590.0,269.6 C595.0,268.6 600.2,267.6 605.0,266.0 C609.8,264.4 614.2,262.3 619.0,260.0 C623.8,257.7 629.1,254.7 634.0,252.0 C638.9,249.3 642.9,248.3 648.5,243.7 C654.1,239.1 662.5,229.3 667.8,224.4 C673.0,219.5 675.8,217.2 680.0,214.0 C684.2,210.8 688.8,207.4 693.0,205.2 C697.2,203.0 700.7,202.0 705.0,201.0 C709.3,200.0 714.3,199.3 719.0,199.3 C723.7,199.3 727.8,198.9 733.0,201.2 C738.2,203.4 744.6,208.3 750.0,212.8 C755.4,217.3 760.4,221.2 765.5,228.2 C770.6,235.2 776.9,246.6 780.9,255.0 C784.9,263.4 785.7,270.3 789.3,278.9 C792.9,287.5 798.4,298.2 802.7,306.4 C807.0,314.5 811.0,322.0 815.1,327.8 C819.2,333.6 823.5,337.0 827.6,341.1 C831.8,345.2 835.7,349.4 840.0,352.7 C844.3,356.0 848.8,357.9 853.3,360.7 C857.8,363.5 861.8,364.1 866.7,369.6 C871.7,375.1 878.3,385.8 883.0,393.9 C887.7,402.0 890.9,406.6 895.0,418.0 C899.1,429.4 903.7,444.7 907.7,462.4 C911.7,480.1 915.6,505.6 919.1,524.3 C922.6,543.0 925.6,558.8 928.9,574.8 C932.2,590.8 935.5,606.1 938.7,620.5 C942.0,634.9 944.6,648.5 948.4,661.2 C952.2,674.0 957.1,687.8 961.5,697.0 C965.9,706.2 970.0,712.4 974.5,716.6 C979.0,720.8 983.2,722.6 988.4,722.3 C993.6,722.0 999.7,718.4 1005.5,715.0 C1011.3,711.6 1017.1,707.9 1023.4,701.9 C1029.7,695.9 1037.0,687.0 1043.0,679.1 C1049.0,671.2 1053.6,660.7 1059.3,654.7 C1065.0,648.7 1069.5,646.2 1077.0,643.3 C1084.5,640.4 1095.9,640.2 1104.1,637.2 C1112.3,634.2 1119.5,629.1 1126.3,625.2 C1133.1,621.4 1138.0,617.5 1144.8,614.1 C1151.6,610.7 1159.3,607.0 1167.0,604.8 C1174.7,602.6 1182.4,603.2 1191.1,601.1 C1199.8,599.0 1210.2,594.5 1218.9,591.9 C1227.6,589.3 1233.8,587.4 1243.0,585.4 C1252.2,583.4 1265.5,581.6 1274.4,579.8 C1283.4,577.9 1288.8,575.4 1296.7,574.3 C1304.6,573.2 1317.8,573.5 1322.0,573.3" fill="none" stroke="#0000ff" stroke-width="8.8" stroke-linecap="round" stroke-linejoin="round"/>
<path d="M263.0,328.8 C269.2,328.3 285.2,327.1 300.0,326.0 C314.8,324.9 338.7,323.6 352.0,322.3 C365.3,321.0 370.3,319.3 380.0,318.0 C389.7,316.7 397.1,317.0 410.0,314.7 C422.9,312.4 441.6,307.6 457.4,304.0 C473.2,300.4 492.7,295.9 504.8,293.3 C516.9,290.7 520.9,290.6 530.0,288.1 C539.1,285.6 549.7,281.7 559.6,278.5 C569.5,275.3 579.4,272.8 589.3,268.9 C599.2,264.9 609.0,260.0 618.9,254.8 C628.8,249.6 639.9,242.9 648.5,237.8 C657.1,232.7 663.3,228.2 670.7,224.4 C678.1,220.6 686.8,216.9 693.0,214.8 C699.2,212.7 703.6,212.4 707.8,211.9 C712.0,211.4 713.6,211.3 718.1,211.9 C722.6,212.5 728.1,212.2 734.7,215.6 C741.3,218.9 750.1,225.4 757.8,232.0 C765.5,238.6 772.5,245.8 780.9,255.1 C789.2,264.4 798.9,276.6 807.9,287.9 C816.9,299.1 827.2,312.3 834.9,322.6 C842.6,332.9 847.7,339.3 854.1,349.6 C860.5,359.9 867.7,372.5 873.4,384.2 C879.1,395.9 882.9,406.7 888.1,420.0 C893.3,433.3 898.7,448.2 904.4,464.0 C910.1,479.8 916.7,497.9 922.4,514.5 C928.1,531.1 933.0,546.5 938.7,563.4 C944.4,580.2 951.2,601.5 956.6,615.6 C962.0,629.7 965.6,639.2 971.3,648.2 C977.0,657.2 984.3,664.1 990.8,669.3 C997.3,674.4 1003.1,676.4 1010.4,679.1 C1017.7,681.8 1026.6,684.5 1034.8,685.6 C1043.0,686.7 1051.8,686.1 1059.3,685.6 C1066.8,685.1 1071.9,685.0 1080.0,682.6 C1088.1,680.2 1098.5,676.1 1107.8,671.5 C1117.1,666.9 1126.3,660.7 1135.6,654.8 C1144.8,648.9 1154.0,641.5 1163.3,636.3 C1172.5,631.0 1181.8,627.5 1191.1,623.3 C1200.4,619.1 1209.6,615.0 1218.9,611.3 C1228.2,607.6 1237.5,604.0 1246.7,601.1 C1256.0,598.2 1265.2,596.0 1274.4,593.7 C1283.7,591.4 1294.3,588.4 1302.2,587.2 C1310.1,586.0 1318.7,586.4 1322.0,586.3" fill="none" stroke="#ff7f00" stroke-width="8.8" stroke-linecap="round" stroke-linejoin="round"/>
<path d="M263.0,334.0 C267.5,334.0 282.8,334.3 290.0,334.0 C297.2,333.7 300.7,332.8 306.0,332.0 C311.3,331.2 313.9,330.4 321.6,329.5 C329.3,328.6 344.4,327.3 352.0,326.5 C359.6,325.7 361.8,325.4 367.0,324.6 C372.2,323.9 375.4,322.7 383.0,322.0 C390.6,321.3 404.6,321.2 412.4,320.6 C420.2,320.0 424.3,319.4 429.6,318.2 C434.9,317.0 436.7,314.9 444.4,313.5 C452.1,312.1 468.0,311.1 475.8,310.0 C483.6,308.9 486.1,308.0 491.2,307.0 C496.3,306.0 499.0,305.1 506.6,304.0 C514.2,302.9 529.3,302.0 536.8,300.4 C544.3,298.8 546.2,295.9 551.5,294.1 C556.8,292.3 561.1,291.1 568.5,289.6 C575.9,288.1 588.6,286.3 595.9,285.2 C603.2,284.1 606.7,284.1 612.5,283.0 C618.3,281.9 623.8,280.9 630.7,278.5 C637.6,276.1 647.3,271.9 653.7,268.9 C660.1,265.9 663.9,263.3 669.3,260.7 C674.7,258.1 679.3,255.6 686.3,253.3 C693.3,251.0 704.2,247.5 711.5,246.7 C718.8,245.9 724.6,246.7 729.9,248.4 C735.2,250.1 737.9,252.6 743.4,257.1 C748.9,261.6 758.0,269.6 762.6,275.4 C767.2,281.2 768.6,285.9 771.3,291.8 C774.0,297.7 775.5,304.4 779.0,311.0 C782.5,317.6 789.3,324.9 792.5,331.3 C795.7,337.7 795.7,343.8 798.3,349.6 C800.9,355.4 804.4,359.6 807.9,365.9 C811.4,372.1 816.0,381.2 819.5,387.1 C823.0,393.1 825.2,396.8 829.1,401.6 C833.0,406.4 836.5,411.4 842.6,416.0 C848.7,420.6 859.9,425.3 865.7,429.5 C871.5,433.7 873.3,436.7 877.3,441.1 C881.3,445.5 885.5,449.6 889.8,455.9 C894.0,462.2 899.4,472.0 902.8,478.7 C906.2,485.4 907.4,490.1 910.1,495.8 C912.8,501.5 916.2,506.2 919.1,512.9 C922.0,519.5 925.1,528.6 927.3,535.7 C929.5,542.8 930.0,549.3 932.2,555.3 C934.4,561.3 937.6,565.1 940.3,571.6 C943.0,578.1 945.8,587.9 948.4,594.4 C951.0,600.9 952.8,605.7 955.8,610.7 C958.8,615.7 960.8,619.9 966.4,624.5 C972.0,629.1 982.6,636.8 989.2,638.4 C995.9,640.0 1000.7,636.1 1006.3,634.3 C1011.9,632.5 1016.2,630.9 1022.6,627.8 C1029.0,624.7 1037.9,619.3 1044.6,615.6 C1051.2,611.9 1056.6,608.4 1062.5,605.8 C1068.4,603.2 1072.8,601.5 1080.0,600.2 C1087.2,599.0 1098.8,599.2 1105.9,598.3 C1113.0,597.4 1117.0,596.5 1122.6,594.6 C1128.2,592.8 1132.3,589.5 1139.3,587.2 C1146.2,584.9 1157.0,582.1 1164.3,580.7 C1171.5,579.3 1176.5,579.8 1182.8,578.9 C1189.1,578.0 1195.0,576.6 1202.2,575.2 C1209.5,573.8 1219.3,571.8 1226.3,570.6 C1233.3,569.4 1238.2,568.6 1244.4,567.8 C1250.6,567.0 1256.0,567.1 1263.3,565.9 C1270.6,564.7 1281.0,561.6 1288.3,560.4 C1295.6,559.2 1301.3,558.7 1306.9,558.5 C1312.5,558.3 1319.5,558.9 1322.0,559.0" fill="none" stroke="#ff00ff" stroke-width="8.8" stroke-linecap="round" stroke-linejoin="round" stroke-dasharray="22.2 19.9 0.01 19.9"/>
<path d="M263.0,328.8 C267.6,328.8 283.6,329.1 290.8,328.8 C298.0,328.5 301.1,327.6 306.2,326.8 C311.3,326.0 313.9,324.9 321.6,324.1 C329.3,323.4 344.8,323.1 352.4,322.3 C360.0,321.5 362.1,320.2 367.2,319.3 C372.3,318.4 375.6,317.7 383.2,317.0 C390.8,316.3 405.3,315.7 413.0,315.0 C420.7,314.3 424.4,313.9 429.6,312.9 C434.8,311.8 436.7,310.1 444.4,308.7 C452.1,307.3 468.0,305.7 475.8,304.6 C483.6,303.5 486.1,302.9 491.2,302.2 C496.3,301.5 499.0,301.7 506.6,300.4 C514.2,299.1 529.4,296.5 536.8,294.5 C544.2,292.5 545.5,290.4 551.0,288.6 C556.5,286.8 562.6,285.1 570.0,283.7 C577.4,282.3 588.1,281.0 595.2,280.0 C602.3,279.0 606.8,278.9 612.7,277.5 C618.6,276.1 624.1,274.6 630.7,271.9 C637.3,269.2 646.0,264.7 652.2,261.5 C658.4,258.3 662.4,255.6 668.0,252.6 C673.6,249.6 678.5,246.3 685.6,243.7 C692.7,241.1 703.7,238.2 710.7,237.0 C717.8,235.8 722.5,235.2 727.9,236.8 C733.3,238.4 738.1,241.7 743.4,246.5 C748.7,251.3 755.5,259.8 759.7,265.7 C763.9,271.6 765.5,276.6 768.4,282.1 C771.3,287.6 773.7,291.8 777.1,298.5 C780.5,305.2 785.9,315.9 788.6,322.6 C791.3,329.4 791.5,333.2 793.4,339.0 C795.3,344.8 797.3,350.6 800.2,357.3 C803.1,364.0 807.8,373.0 810.8,379.4 C813.8,385.8 815.8,390.5 818.5,395.8 C821.2,401.1 822.6,405.4 827.2,411.2 C831.9,417.0 840.8,425.5 846.4,430.5 C852.0,435.5 856.2,437.7 860.9,441.1 C865.6,444.5 869.3,445.7 874.4,450.7 C879.5,455.7 887.3,465.0 891.7,471.0 C896.1,477.0 898.0,481.4 900.9,486.8 C903.8,492.2 906.3,496.6 909.3,503.1 C912.3,509.6 916.4,519.0 919.1,525.9 C921.8,532.8 923.4,538.7 925.6,544.7 C927.8,550.7 929.8,555.1 932.2,561.8 C934.7,568.4 937.7,578.0 940.3,584.6 C942.9,591.2 944.9,596.0 947.6,601.7 C950.3,607.4 952.7,612.9 956.6,618.8 C960.5,624.6 965.9,632.6 971.3,636.8 C976.7,641.0 982.9,643.6 988.9,644.1 C994.9,644.6 1000.4,642.0 1007.1,640.0 C1013.8,638.0 1022.9,634.9 1029.1,631.9 C1035.3,628.9 1038.9,625.4 1044.3,622.1 C1049.7,618.8 1055.1,614.9 1061.7,612.3 C1068.3,609.7 1076.8,607.9 1084.0,606.5 C1091.2,605.1 1098.6,605.1 1105.0,603.9 C1111.4,602.7 1115.5,601.6 1122.6,599.3 C1129.7,597.0 1140.6,592.3 1147.6,590.0 C1154.6,587.7 1158.8,586.6 1164.8,585.4 C1170.8,584.2 1176.2,584.0 1183.7,583.0 C1191.2,582.0 1202.6,580.8 1209.6,579.3 C1216.5,577.8 1219.7,575.6 1225.4,574.3 C1231.1,573.0 1236.7,572.4 1243.9,571.5 C1251.2,570.6 1261.7,569.9 1268.9,568.7 C1276.1,567.5 1281.0,565.0 1287.0,564.1 C1293.0,563.2 1299.2,563.3 1305.0,563.1 C1310.8,562.9 1319.2,563.1 1322.0,563.1" fill="none" stroke="#00ff00" stroke-width="8.8" stroke-linecap="round" stroke-linejoin="round" stroke-dasharray="22.2 19.9 0.01 19.9"/>
<path d="M248.0,1770.4 C250.5,1770.4 258.9,1771.1 262.8,1770.1 C266.8,1769.1 269.0,1767.3 271.7,1764.4 C274.4,1761.5 276.6,1757.5 279.1,1752.6 C281.6,1747.7 284.3,1741.2 286.5,1734.8 C288.7,1728.4 290.4,1720.5 292.4,1714.1 C294.4,1707.7 295.8,1702.5 298.3,1696.3 C300.8,1690.1 303.7,1683.2 307.2,1677.0 C310.7,1670.8 314.2,1665.2 319.1,1659.3 C324.1,1653.4 332.0,1647.7 336.9,1641.5 C341.8,1635.3 344.5,1628.6 348.7,1622.2 C352.9,1615.8 358.1,1608.7 362.0,1603.0 C365.9,1597.3 368.4,1592.7 372.4,1588.1 C376.3,1583.5 379.0,1579.2 385.7,1575.6 C392.4,1572.0 403.3,1568.9 412.4,1566.7 C421.4,1564.5 430.5,1564.1 440.0,1562.2 C449.5,1560.3 459.7,1557.6 469.6,1555.6 C479.5,1553.6 489.4,1552.8 499.3,1550.4 C509.2,1548.1 519.0,1544.3 528.9,1541.5 C538.8,1538.7 548.6,1535.5 558.5,1533.3 C568.4,1531.1 578.2,1529.7 588.1,1528.1 C598.0,1526.5 609.1,1524.9 617.8,1523.7 C626.4,1522.5 632.3,1522.2 640.0,1521.0 C647.7,1519.8 654.4,1518.2 664.1,1516.3 C673.8,1514.4 686.8,1511.5 698.1,1509.5 C709.5,1507.5 720.8,1506.1 732.2,1504.4 C743.6,1502.7 754.9,1501.9 766.3,1499.3 C777.7,1496.7 789.0,1491.8 800.4,1489.0 C811.8,1486.2 824.5,1483.8 834.4,1482.2 C844.3,1480.7 851.0,1481.0 860.0,1479.7 C869.0,1478.4 877.3,1477.1 888.5,1474.4 C899.7,1471.8 914.2,1467.2 927.1,1463.8 C940.0,1460.4 952.8,1456.8 965.6,1454.1 C978.4,1451.4 993.4,1449.8 1004.1,1447.4 C1014.8,1445.1 1020.1,1442.7 1030.0,1440.0 C1039.9,1437.3 1052.2,1434.8 1063.3,1431.1 C1074.4,1427.4 1086.7,1423.7 1096.7,1417.8 C1106.7,1411.9 1114.4,1404.1 1123.3,1395.6 C1132.2,1387.1 1141.8,1374.8 1150.0,1366.7 C1158.2,1358.6 1165.9,1353.4 1172.2,1346.7 C1178.5,1340.0 1183.0,1335.2 1187.8,1326.7 C1192.6,1318.2 1197.0,1306.0 1201.1,1295.6 C1205.2,1285.2 1208.9,1275.5 1212.2,1264.4 C1215.5,1253.3 1218.1,1240.0 1221.1,1228.9 C1224.1,1217.8 1226.7,1205.8 1230.0,1197.8 C1233.3,1189.8 1237.4,1184.4 1241.1,1181.1 C1244.8,1177.8 1248.5,1177.4 1252.2,1177.8 C1255.9,1178.2 1258.8,1179.6 1263.3,1183.3 C1267.8,1187.0 1273.7,1194.4 1278.9,1200.0 C1284.1,1205.6 1289.6,1212.8 1294.4,1216.7 C1299.2,1220.6 1303.2,1222.2 1307.8,1223.3 C1312.4,1224.4 1319.6,1223.3 1322.0,1223.3" fill="none" stroke="#0000ff" stroke-width="8.3" stroke-linecap="round" stroke-linejoin="round"/>
<path d="M248.0,1725.8 C250.5,1726.1 258.4,1726.4 262.8,1727.4 C267.2,1728.4 270.7,1729.4 274.6,1731.9 C278.6,1734.4 282.8,1738.2 286.5,1742.2 C290.2,1746.2 292.7,1751.1 296.9,1755.6 C301.1,1760.0 306.5,1765.8 311.7,1768.9 C316.9,1772.0 322.3,1774.1 328.0,1774.1 C333.7,1774.1 339.0,1771.8 345.7,1768.9 C352.4,1766.1 361.3,1760.7 368.0,1757.0 C374.7,1753.3 380.3,1750.7 385.7,1746.7 C391.1,1742.8 395.2,1739.2 400.6,1733.3 C406.0,1727.4 413.1,1718.5 418.3,1711.1 C423.5,1703.7 427.2,1696.3 431.7,1688.9 C436.1,1681.5 441.1,1672.4 445.0,1666.7 C448.9,1661.0 450.7,1660.0 454.8,1654.8 C458.9,1649.6 463.4,1642.0 469.6,1635.6 C475.8,1629.2 484.5,1621.7 491.9,1616.3 C499.3,1610.9 505.5,1607.5 514.1,1603.0 C522.7,1598.5 533.8,1593.8 543.7,1589.6 C553.6,1585.4 563.4,1581.8 573.3,1577.8 C583.2,1573.8 594.4,1569.6 603.0,1565.9 C611.6,1562.2 619.0,1558.2 625.2,1555.6 C631.4,1552.9 633.5,1553.2 640.0,1550.0 C646.5,1546.8 654.4,1541.5 664.1,1536.7 C673.8,1531.9 686.8,1525.9 698.1,1521.4 C709.5,1516.9 720.8,1513.8 732.2,1509.5 C743.6,1505.2 754.9,1500.6 766.3,1495.8 C777.7,1491.0 789.0,1485.0 800.4,1480.5 C811.8,1476.0 824.5,1471.7 834.4,1468.6 C844.3,1465.5 851.0,1464.9 860.0,1462.0 C869.0,1459.1 877.3,1456.0 888.5,1451.2 C899.7,1446.4 914.2,1439.2 927.1,1432.9 C940.0,1426.7 956.0,1418.8 965.6,1413.7 C975.2,1408.6 978.5,1406.6 984.9,1402.1 C991.3,1397.6 997.7,1392.5 1004.1,1386.7 C1010.5,1380.9 1017.0,1374.2 1023.4,1367.4 C1029.8,1360.7 1036.3,1353.7 1042.7,1346.2 C1049.1,1338.7 1056.6,1328.4 1061.9,1322.2 C1067.2,1316.0 1068.6,1315.6 1074.4,1308.9 C1080.2,1302.2 1089.3,1292.6 1096.7,1282.2 C1104.1,1271.8 1112.2,1258.2 1118.9,1246.7 C1125.6,1235.2 1131.2,1223.7 1136.7,1213.3 C1142.2,1202.9 1147.8,1191.8 1152.2,1184.4 C1156.6,1177.0 1158.8,1172.8 1163.3,1168.9 C1167.8,1165.0 1174.1,1161.8 1178.9,1161.1 C1183.7,1160.3 1186.7,1160.9 1192.2,1164.4 C1197.8,1167.9 1205.9,1175.5 1212.2,1182.2 C1218.5,1188.9 1223.3,1197.0 1230.0,1204.4 C1236.7,1211.8 1244.4,1219.7 1252.2,1226.7 C1260.0,1233.8 1269.3,1240.0 1276.7,1246.7 C1284.1,1253.4 1291.2,1262.6 1296.7,1266.7 C1302.2,1270.8 1305.8,1270.4 1310.0,1271.1 C1314.2,1271.8 1320.0,1271.1 1322.0,1271.1" fill="none" stroke="#ff7f00" stroke-width="8.3" stroke-linecap="round" stroke-linejoin="round"/>
<path d="M248.0,1765.5 C250.3,1765.3 258.1,1765.1 262.0,1764.5 C265.9,1763.9 268.8,1764.2 271.7,1762.0 C274.6,1759.8 276.6,1755.7 279.1,1751.0 C281.6,1746.3 284.3,1740.1 286.5,1733.8 C288.7,1727.5 290.4,1719.5 292.4,1713.1 C294.4,1706.7 295.8,1701.5 298.3,1695.3 C300.8,1689.1 303.7,1682.2 307.2,1676.0 C310.7,1669.8 314.2,1664.2 319.1,1658.3 C324.1,1652.4 332.0,1646.7 336.9,1640.5 C341.8,1634.3 344.5,1627.6 348.7,1621.2 C352.9,1614.8 358.1,1607.7 362.0,1602.0 C365.9,1596.3 368.4,1591.7 372.4,1587.1 C376.3,1582.5 379.0,1578.2 385.7,1574.6 C392.4,1571.0 403.3,1568.1 412.4,1565.7 C421.4,1563.3 430.5,1562.0 440.0,1560.0 C449.5,1558.0 459.7,1555.5 469.6,1553.6 C479.5,1551.7 489.4,1550.9 499.3,1548.6 C509.2,1546.3 519.0,1542.6 528.9,1539.8 C538.8,1537.0 548.6,1534.0 558.5,1531.8 C568.4,1529.5 578.2,1527.8 588.1,1526.3 C598.0,1524.8 609.1,1524.0 617.8,1522.7 C626.4,1521.4 632.3,1520.0 640.0,1518.5 C647.7,1517.0 654.4,1515.5 664.1,1513.5 C673.8,1511.5 686.8,1508.3 698.1,1506.5 C709.5,1504.7 720.8,1504.2 732.2,1502.8 C743.6,1501.4 754.9,1500.5 766.3,1498.0 C777.7,1495.5 789.0,1490.7 800.4,1487.8 C811.8,1484.9 823.7,1482.4 834.4,1480.5 C845.1,1478.6 852.3,1478.6 864.5,1476.3 C876.7,1474.0 897.7,1469.2 907.8,1466.7 C917.9,1464.2 914.8,1464.4 925.1,1461.5 C935.4,1458.6 956.3,1452.3 969.5,1449.3 C982.7,1446.3 993.8,1445.3 1004.1,1443.5 C1014.4,1441.7 1023.7,1440.0 1031.1,1438.3 C1038.5,1436.6 1042.8,1435.2 1048.5,1433.6 C1054.2,1432.0 1058.7,1431.2 1065.6,1428.9 C1072.5,1426.6 1083.7,1423.3 1090.0,1420.0 C1096.3,1416.7 1099.0,1413.5 1103.3,1408.9 C1107.6,1404.3 1111.0,1398.5 1115.6,1392.2 C1120.2,1385.9 1127.2,1377.4 1131.1,1371.1 C1135.0,1364.8 1136.1,1360.1 1138.9,1354.4 C1141.7,1348.7 1144.1,1342.6 1147.8,1336.7 C1151.5,1330.8 1156.5,1324.3 1161.1,1318.9 C1165.7,1313.5 1171.0,1308.7 1175.6,1304.4 C1180.2,1300.1 1183.4,1298.5 1188.9,1293.3 C1194.5,1288.1 1204.1,1279.2 1208.9,1273.3 C1213.7,1267.4 1214.7,1262.8 1217.8,1257.8 C1220.9,1252.8 1222.1,1247.9 1227.8,1243.3 C1233.5,1238.7 1246.1,1230.7 1252.2,1230.0 C1258.3,1229.3 1260.1,1234.8 1264.4,1238.9 C1268.7,1243.0 1272.8,1248.5 1277.8,1254.4 C1282.8,1260.3 1288.5,1270.1 1294.4,1274.4 C1300.3,1278.7 1308.7,1278.7 1313.3,1280.0 C1317.9,1281.3 1320.5,1281.7 1322.0,1282.0" fill="none" stroke="#ff00ff" stroke-width="8" stroke-linecap="round" stroke-linejoin="round" stroke-dasharray="23 19.5 0.01 19.5"/>
<path d="M248.0,1721.2 C251.9,1721.5 265.6,1720.5 271.7,1723.0 C277.8,1725.5 280.6,1731.6 284.3,1736.3 C288.0,1741.0 289.0,1745.7 293.9,1751.1 C298.8,1756.5 307.7,1765.3 313.9,1768.9 C320.1,1772.5 325.5,1773.3 330.9,1772.6 C336.3,1771.8 339.9,1768.1 346.5,1764.4 C353.1,1760.7 363.7,1754.4 370.2,1750.4 C376.7,1746.5 380.9,1743.8 385.7,1740.7 C390.5,1737.6 393.9,1736.8 399.1,1731.9 C404.3,1727.0 412.5,1717.3 416.9,1711.1 C421.3,1704.9 422.7,1700.3 425.4,1694.5 C428.1,1688.7 429.8,1682.7 433.1,1676.3 C436.4,1669.9 441.4,1662.2 445.0,1656.0 C448.6,1649.8 451.4,1644.7 454.8,1639.3 C458.2,1633.9 459.5,1629.0 465.2,1623.7 C470.9,1618.4 482.2,1611.4 488.9,1607.4 C495.6,1603.4 499.5,1602.4 505.2,1599.7 C510.9,1597.0 516.1,1594.3 523.0,1591.1 C529.9,1587.9 540.0,1583.7 546.7,1580.7 C553.4,1577.7 557.5,1575.4 563.4,1573.3 C569.3,1571.2 575.1,1570.2 582.2,1568.1 C589.3,1566.0 599.0,1563.2 605.9,1560.7 C612.8,1558.2 618.3,1556.0 623.7,1553.3 C629.1,1550.6 631.8,1548.3 638.5,1544.4 C645.2,1540.5 657.4,1533.6 664.1,1529.9 C670.8,1526.2 673.5,1524.6 678.6,1522.2 C683.7,1519.8 687.3,1517.8 694.7,1515.4 C702.1,1513.0 715.4,1509.9 722.8,1507.8 C730.2,1505.7 733.6,1504.8 739.0,1503.0 C744.4,1501.2 748.4,1499.9 755.2,1496.7 C762.0,1493.5 773.3,1487.3 779.9,1483.9 C786.5,1480.5 789.6,1479.0 794.9,1476.3 C800.1,1473.6 804.2,1470.7 811.4,1467.7 C818.5,1464.7 830.5,1460.7 837.8,1458.4 C845.0,1456.1 849.0,1455.6 854.9,1454.1 C860.8,1452.6 865.7,1451.2 873.1,1449.3 C880.5,1447.4 892.1,1444.8 899.1,1442.6 C906.1,1440.3 909.6,1438.2 915.1,1435.8 C920.6,1433.4 924.9,1431.1 931.9,1428.1 C938.9,1425.0 950.2,1420.4 956.9,1417.5 C963.6,1414.6 967.5,1413.4 972.3,1410.8 C977.1,1408.2 980.5,1407.1 985.8,1402.1 C991.1,1397.1 999.4,1387.2 1004.1,1380.9 C1008.8,1374.6 1010.6,1370.1 1013.8,1364.5 C1017.0,1358.9 1020.0,1353.8 1023.4,1347.2 C1026.8,1340.6 1031.0,1331.8 1034.0,1325.0 C1037.0,1318.2 1038.6,1312.5 1041.1,1306.7 C1043.6,1300.9 1045.9,1296.5 1048.9,1290.0 C1051.9,1283.5 1055.8,1274.1 1058.9,1267.8 C1062.1,1261.5 1063.7,1257.2 1067.8,1252.2 C1071.9,1247.2 1076.4,1241.7 1083.3,1237.8 C1090.2,1233.9 1101.7,1230.9 1108.9,1228.9 C1116.1,1226.9 1120.6,1226.8 1126.7,1226.0 C1132.8,1225.2 1138.0,1224.7 1145.6,1224.4 C1153.2,1224.1 1165.2,1223.7 1172.2,1224.4 C1179.2,1225.2 1182.4,1226.7 1187.8,1228.9 C1193.2,1231.1 1198.5,1233.5 1204.4,1237.8 C1210.3,1242.0 1217.4,1249.7 1223.3,1254.4 C1229.2,1259.1 1234.4,1262.8 1240.0,1266.0 C1245.6,1269.2 1250.6,1270.4 1256.7,1273.3 C1262.8,1276.2 1270.4,1279.4 1276.7,1283.3 C1283.0,1287.2 1288.5,1294.1 1294.4,1296.7 C1300.3,1299.3 1307.6,1298.5 1312.2,1298.9 C1316.8,1299.3 1320.4,1298.9 1322.0,1298.9" fill="none" stroke="#00ffff" stroke-width="8.5" stroke-linecap="round" stroke-linejoin="round" stroke-dasharray="22.5 19.75 0.01 19.75"/>
<text x="0" y="0" transform="translate(140.68,153.80) scale(1,1.035)" style="font-family:'Liberation Sans';font-size:37px">4x</text>
<path d="M763,0 L583,0 L583,1147 C540,1106 483,1064 412,1023 C341,982 278,951 222,930 L222,1104 C323,1151 408,1204 486,1276 C562,1344 617,1409 646,1472 L763,1472 Z" transform="translate(179.75,153.80) scale(0.01807,-0.01870)" fill="#000"/>
<text x="0" y="0" transform="translate(200.33,153.80) scale(1,1.035)" style="font-family:'Liberation Sans';font-size:37px">0</text>
<text transform="translate(220.91,139.41) scale(1,1.035)" style="font-family:'Liberation Sans';font-size:24.98px">9</text>
<text x="0" y="0" transform="translate(140.68,303.80) scale(1,1.035)" style="font-family:'Liberation Sans';font-size:37px">2x</text>
<path d="M763,0 L583,0 L583,1147 C540,1106 483,1064 412,1023 C341,982 278,951 222,930 L222,1104 C323,1151 408,1204 486,1276 C562,1344 617,1409 646,1472 L763,1472 Z" transform="translate(179.75,303.80) scale(0.01807,-0.01870)" fill="#000"/>
<text x="0" y="0" transform="translate(200.33,303.80) scale(1,1.035)" style="font-family:'Liberation Sans';font-size:37px">0</text>
<text transform="translate(220.91,289.41) scale(1,1.035)" style="font-family:'Liberation Sans';font-size:24.98px">9</text>
<text x="0" y="0" transform="translate(214.22,453.80) scale(1,1.035)" style="font-family:'Liberation Sans';font-size:37px">0</text>
<text x="0" y="0" transform="translate(128.36,603.80) scale(1,1.035)" style="font-family:'Liberation Sans';font-size:37px">-2x</text>
<path d="M763,0 L583,0 L583,1147 C540,1106 483,1064 412,1023 C341,982 278,951 222,930 L222,1104 C323,1151 408,1204 486,1276 C562,1344 617,1409 646,1472 L763,1472 Z" transform="translate(179.75,603.80) scale(0.01807,-0.01870)" fill="#000"/>
<text x="0" y="0" transform="translate(200.33,603.80) scale(1,1.035)" style="font-family:'Liberation Sans';font-size:37px">0</text>
<text transform="translate(220.91,589.41) scale(1,1.035)" style="font-family:'Liberation Sans';font-size:24.98px">9</text>
<text x="0" y="0" transform="translate(128.36,753.80) scale(1,1.035)" style="font-family:'Liberation Sans';font-size:37px">-4x</text>
<path d="M763,0 L583,0 L583,1147 C540,1106 483,1064 412,1023 C341,982 278,951 222,930 L222,1104 C323,1151 408,1204 486,1276 C562,1344 617,1409 646,1472 L763,1472 Z" transform="translate(179.75,753.80) scale(0.01807,-0.01870)" fill="#000"/>
<text x="0" y="0" transform="translate(200.33,753.80) scale(1,1.035)" style="font-family:'Liberation Sans';font-size:37px">0</text>
<text transform="translate(220.91,739.41) scale(1,1.035)" style="font-family:'Liberation Sans';font-size:24.98px">9</text>
<text x="0" y="0" transform="translate(124.68,1164.20) scale(1,1.035)" style="font-family:'Liberation Sans';font-size:37px">4x</text>
<path d="M763,0 L583,0 L583,1147 C540,1106 483,1064 412,1023 C341,982 278,951 222,930 L222,1104 C323,1151 408,1204 486,1276 C562,1344 617,1409 646,1472 L763,1472 Z" transform="translate(163.75,1164.20) scale(0.01807,-0.01870)" fill="#000"/>
<text x="0" y="0" transform="translate(184.33,1164.20) scale(1,1.035)" style="font-family:'Liberation Sans';font-size:37px">0</text>
<text transform="translate(204.91,1149.81) scale(1,1.035)" style="font-family:'Liberation Sans';font-size:24.98px">9</text>
<text x="0" y="0" transform="translate(124.68,1337.40) scale(1,1.035)" style="font-family:'Liberation Sans';font-size:37px">2x</text>
<path d="M763,0 L583,0 L583,1147 C540,1106 483,1064 412,1023 C341,982 278,951 222,930 L222,1104 C323,1151 408,1204 486,1276 C562,1344 617,1409 646,1472 L763,1472 Z" transform="translate(163.75,1337.40) scale(0.01807,-0.01870)" fill="#000"/>
<text x="0" y="0" transform="translate(184.33,1337.40) scale(1,1.035)" style="font-family:'Liberation Sans';font-size:37px">0</text>
<text transform="translate(204.91,1323.01) scale(1,1.035)" style="font-family:'Liberation Sans';font-size:24.98px">9</text>
<text x="0" y="0" transform="translate(198.22,1510.40) scale(1,1.035)" style="font-family:'Liberation Sans';font-size:37px">0</text>
<text x="0" y="0" transform="translate(112.36,1683.60) scale(1,1.035)" style="font-family:'Liberation Sans';font-size:37px">-2x</text>
<path d="M763,0 L583,0 L583,1147 C540,1106 483,1064 412,1023 C341,982 278,951 222,930 L222,1104 C323,1151 408,1204 486,1276 C562,1344 617,1409 646,1472 L763,1472 Z" transform="translate(163.75,1683.60) scale(0.01807,-0.01870)" fill="#000"/>
<text x="0" y="0" transform="translate(184.33,1683.60) scale(1,1.035)" style="font-family:'Liberation Sans';font-size:37px">0</text>
<text transform="translate(204.91,1669.21) scale(1,1.035)" style="font-family:'Liberation Sans';font-size:24.98px">9</text>
<text x="0" y="0" transform="translate(112.36,1856.80) scale(1,1.035)" style="font-family:'Liberation Sans';font-size:37px">-4x</text>
<path d="M763,0 L583,0 L583,1147 C540,1106 483,1064 412,1023 C341,982 278,951 222,930 L222,1104 C323,1151 408,1204 486,1276 C562,1344 617,1409 646,1472 L763,1472 Z" transform="translate(163.75,1856.80) scale(0.01807,-0.01870)" fill="#000"/>
<text x="0" y="0" transform="translate(184.33,1856.80) scale(1,1.035)" style="font-family:'Liberation Sans';font-size:37px">0</text>
<text transform="translate(204.91,1842.41) scale(1,1.035)" style="font-family:'Liberation Sans';font-size:24.98px">9</text>
<text x="0" y="0" transform="translate(252.91,924.80) scale(1,1.035)" style="font-family:'Liberation Sans';font-size:37px">0</text>
<path d="M763,0 L583,0 L583,1147 C540,1106 483,1064 412,1023 C341,982 278,951 222,930 L222,1104 C323,1151 408,1204 486,1276 C562,1344 617,1409 646,1472 L763,1472 Z" transform="translate(517.56,924.80) scale(0.01807,-0.01870)" fill="#000"/>
<text x="0" y="0" transform="translate(782.21,924.80) scale(1,1.035)" style="font-family:'Liberation Sans';font-size:37px">2</text>
<text x="0" y="0" transform="translate(1046.86,924.80) scale(1,1.035)" style="font-family:'Liberation Sans';font-size:37px">3</text>
<text x="0" y="0" transform="translate(1311.51,924.80) scale(1,1.035)" style="font-family:'Liberation Sans';font-size:37px">4</text>
<text x="0" y="0" transform="translate(237.61,1986.80) scale(1,1.035)" style="font-family:'Liberation Sans';font-size:37px">0</text>
<path d="M763,0 L583,0 L583,1147 C540,1106 483,1064 412,1023 C341,982 278,951 222,930 L222,1104 C323,1151 408,1204 486,1276 C562,1344 617,1409 646,1472 L763,1472 Z" transform="translate(506.04,1986.80) scale(0.01807,-0.01870)" fill="#000"/>
<text x="0" y="0" transform="translate(774.46,1986.80) scale(1,1.035)" style="font-family:'Liberation Sans';font-size:37px">2</text>
<text x="0" y="0" transform="translate(1042.89,1986.80) scale(1,1.035)" style="font-family:'Liberation Sans';font-size:37px">3</text>
<text x="0" y="0" transform="translate(1311.31,1986.80) scale(1,1.035)" style="font-family:'Liberation Sans';font-size:37px">4</text>
<text transform="translate(793.6,993.0) scale(1,1.030)" text-anchor="middle" style="font-family:'Liberation Sans';font-size:44.8px;font-weight:normal;" fill="#000" >Width (mm)</text>
<text transform="translate(785.4,2056.4) scale(1,1.030)" text-anchor="middle" style="font-family:'Liberation Sans';font-size:45.5px;font-weight:normal;" fill="#000" >Width (mm)</text>
<text transform="translate(74.0,416.6) rotate(-90) scale(1,1.06)" text-anchor="middle" style="font-family:'Liberation Sans';font-size:44.3px">Current density <tspan font-style="italic">J</tspan><tspan font-size="31.0" dy="12">t</tspan><tspan dy="-12"> (A/m</tspan><tspan font-size="31.0" dy="-16">2</tspan><tspan dy="16">)</tspan></text>
<text transform="translate(55.5,1465.0) rotate(-90) scale(1,1.06)" text-anchor="middle" style="font-family:'Liberation Sans';font-size:44.2px">Current density <tspan font-style="italic">J</tspan><tspan font-size="30.9" dy="12">t</tspan><tspan dy="-12"> (A/m</tspan><tspan font-size="30.9" dy="-16">2</tspan><tspan dy="16">)</tspan></text>
<text transform="translate(343.0,225.0) scale(1,1.000)" text-anchor="middle" style="font-family:'Liberation Sans';font-size:45.6px;font-weight:bold;" fill="#000" >(a)</text>
<text transform="translate(329.8,1279.2) scale(1,1.000)" text-anchor="middle" style="font-family:'Liberation Sans';font-size:45.6px;font-weight:bold;" fill="#000" >(b)</text>
<text transform="translate(315.7,78.7) scale(1,1.010)" text-anchor="start" style="font-family:'Liberation Sans';font-size:45.0px;font-weight:normal;" fill="#000" >Coupled</text>
<text transform="translate(314.5,132.7) scale(1,1.010)" text-anchor="start" style="font-family:'Liberation Sans';font-size:45.0px;font-weight:normal;" fill="#000" >Uncoupled</text>
<line x1="554.95" y1="62.9" x2="654.15" y2="62.9" stroke="#0000ff" stroke-width="8.7" stroke-linecap="round"/>
<line x1="789.25" y1="62.9" x2="888.35" y2="62.9" stroke="#ff7f00" stroke-width="8.7" stroke-linecap="round"/>
<path d="M552.25,117.6 H576.55 M595.6,117.6 H595.61 M614.45,117.6 H638.95" stroke="#ff00ff" stroke-width="8.7" stroke-linecap="round"/>
<path d="M786.85,117.6 H810.95 M829.9,117.6 H829.91 M849.15,117.6 H873.55" stroke="#00ff00" stroke-width="8.7" stroke-linecap="round"/>
<text transform="translate(665.1,78.5) scale(1,1.010)" text-anchor="start" style="font-family:'Liberation Sans';font-size:45.0px;font-weight:normal;" fill="#000" >inner</text>
<text transform="translate(663.5,132.7) scale(1,1.010)" text-anchor="start" style="font-family:'Liberation Sans';font-size:45.0px;font-weight:normal;" fill="#000" >inner</text>
<text transform="translate(900.5,78.5) scale(1,1.010)" text-anchor="start" style="font-family:'Liberation Sans';font-size:45.0px;font-weight:normal;" fill="#000" >outer</text>
<text transform="translate(897.8,132.7) scale(1,1.010)" text-anchor="start" style="font-family:'Liberation Sans';font-size:45.0px;font-weight:normal;" fill="#000" >outer</text>
<text transform="translate(300.5,1131.4) scale(1,1.010)" text-anchor="start" style="font-family:'Liberation Sans';font-size:45.0px;font-weight:normal;" fill="#000" >Coupled</text>
<text transform="translate(300.4,1185.4) scale(1,1.010)" text-anchor="start" style="font-family:'Liberation Sans';font-size:45.0px;font-weight:normal;" fill="#000" >Uncoupled</text>
<line x1="543.55" y1="1115.4" x2="644.65" y2="1115.4" stroke="#0000ff" stroke-width="8.7" stroke-linecap="round"/>
<line x1="781.25" y1="1115.4" x2="881.95" y2="1115.4" stroke="#ff7f00" stroke-width="8.7" stroke-linecap="round"/>
<path d="M541.05,1170.5 H565.65 M584.9,1170.5 H584.91 M604.15,1170.5 H628.75" stroke="#ff00ff" stroke-width="8.7" stroke-linecap="round"/>
<path d="M778.65,1170.6 H803.75 M822.7,1170.6 H822.71 M842.05,1170.6 H866.65" stroke="#00ffff" stroke-width="8.7" stroke-linecap="round"/>
<text transform="translate(654.9,1131.2) scale(1,1.010)" text-anchor="start" style="font-family:'Liberation Sans';font-size:45.0px;font-weight:normal;" fill="#000" >inner</text>
<text transform="translate(653.1,1185.4) scale(1,1.010)" text-anchor="start" style="font-family:'Liberation Sans';font-size:45.0px;font-weight:normal;" fill="#000" >inner</text>
<text transform="translate(894.2,1131.2) scale(1,1.010)" text-anchor="start" style="font-family:'Liberation Sans';font-size:45.0px;font-weight:normal;" fill="#000" >outer</text>
<text transform="translate(892.4,1185.4) scale(1,1.010)" text-anchor="start" style="font-family:'Liberation Sans';font-size:45.0px;font-weight:normal;" fill="#000" >outer</text>
</svg>
</body></html>
